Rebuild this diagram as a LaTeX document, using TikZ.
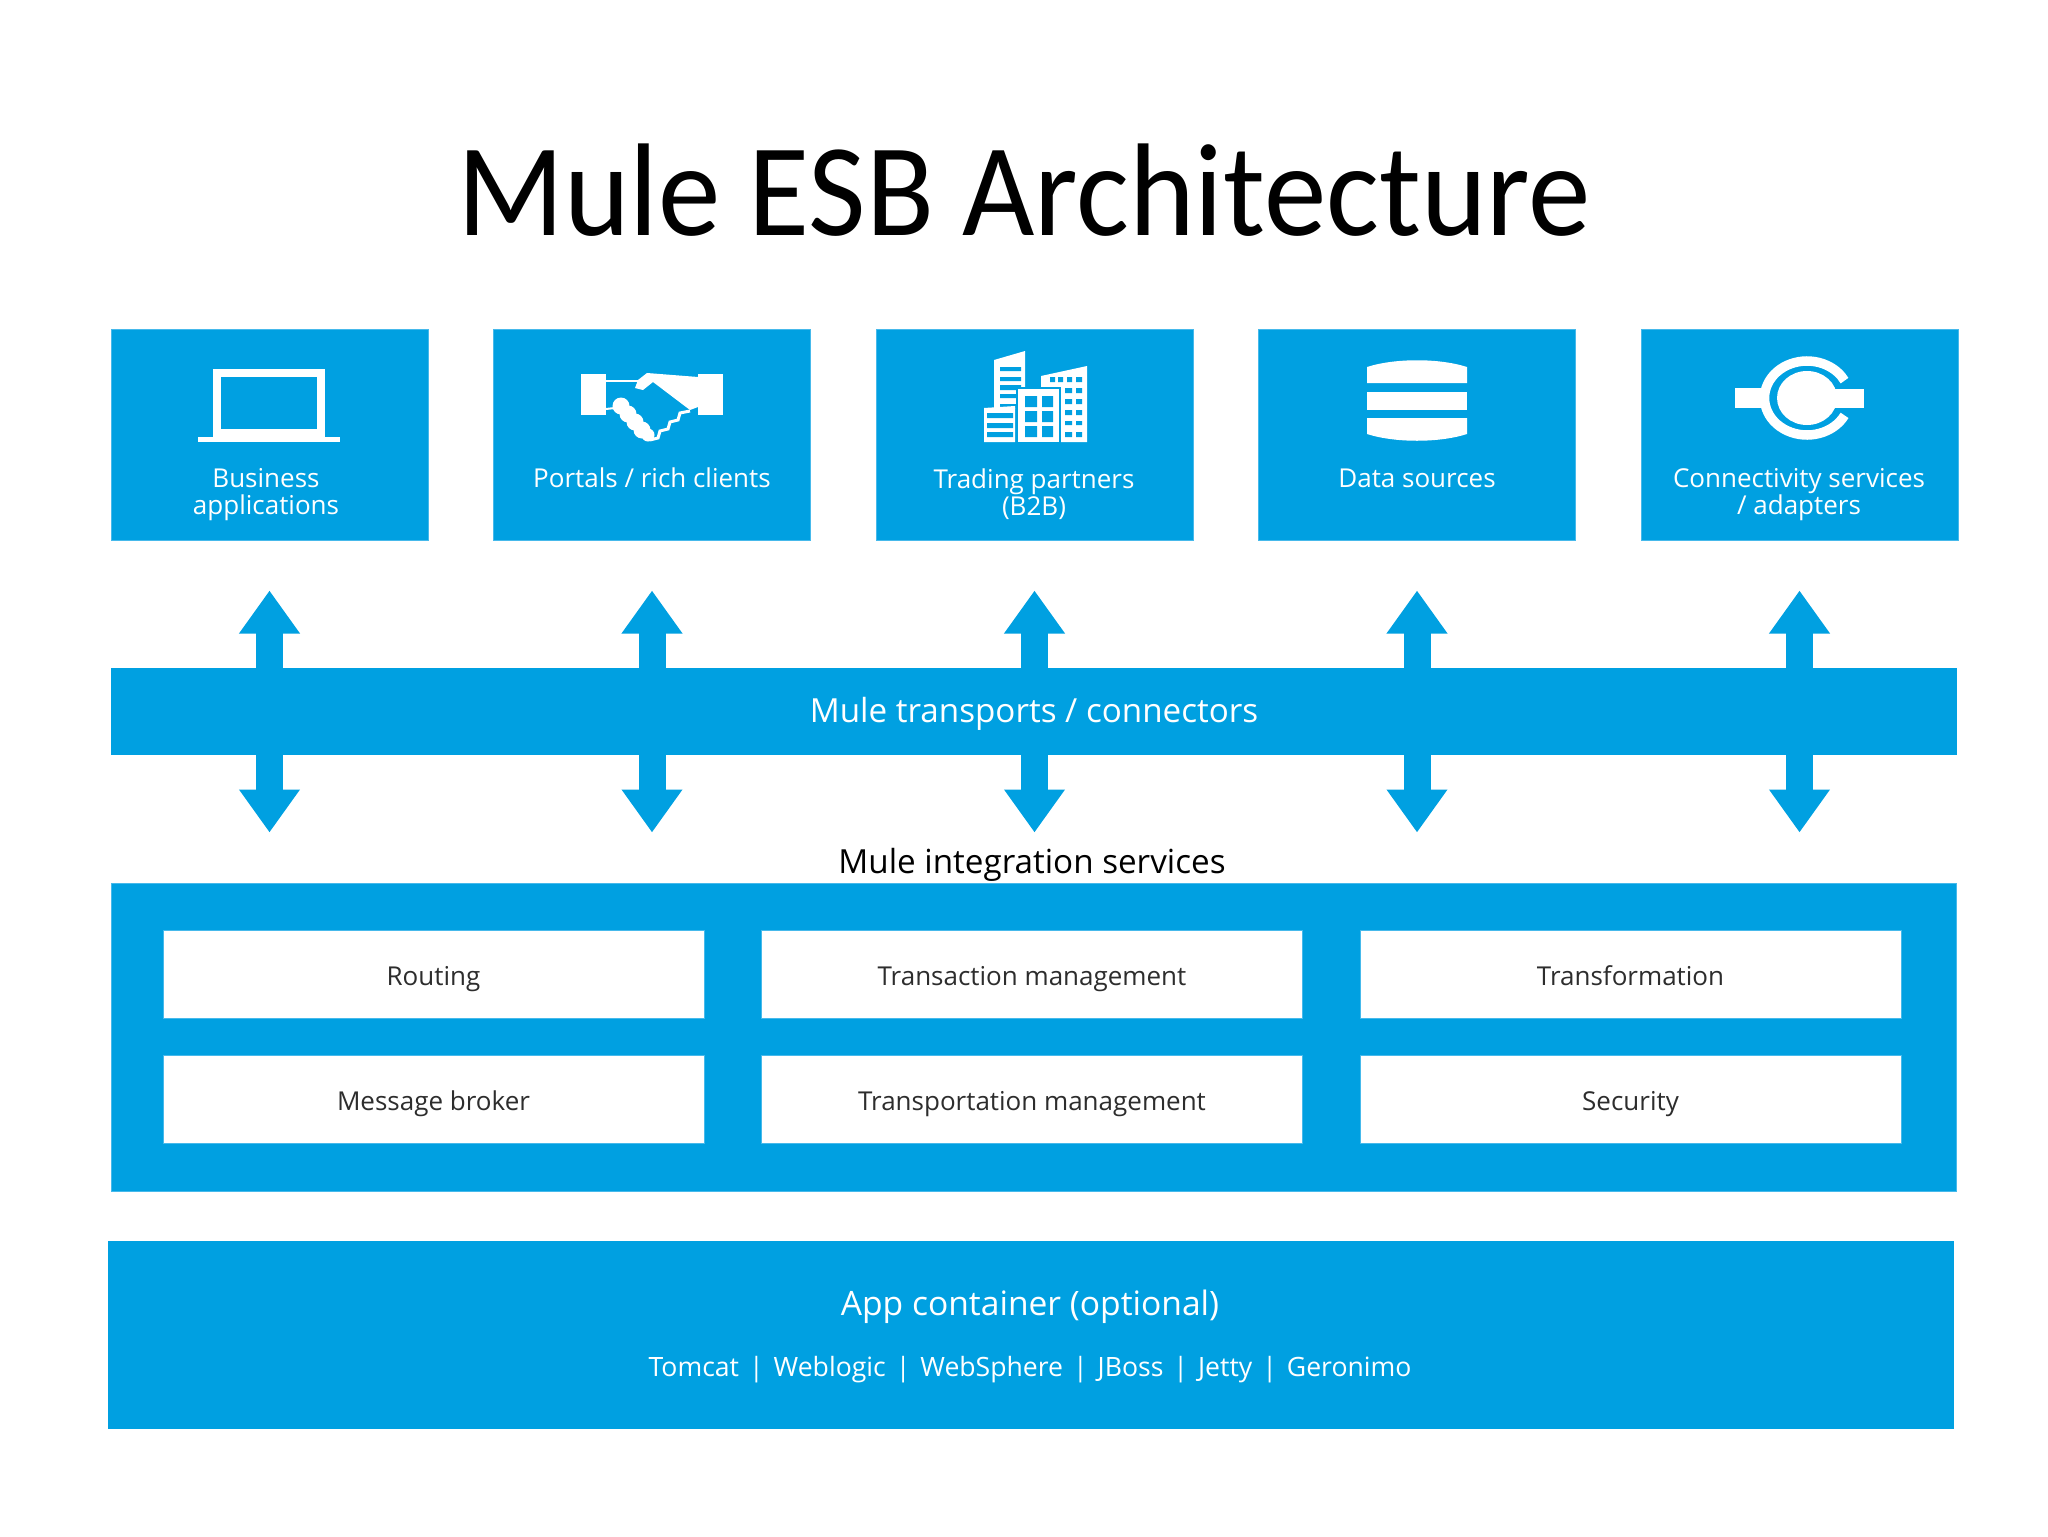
\documentclass[tikz,border=0pt]{standalone}
\usepackage{fontspec}
\setmainfont{Open Sans}
\newfontfamily\titlefont[FakeStretch=0.947]{Carlito}
\usetikzlibrary{arrows.meta}
\definecolor{esbblue}{RGB}{0,160,225}
\definecolor{esbedge}{RGB}{70,185,235}
\definecolor{esbtext}{RGB}{45,45,45}
\newcommand{\fsize}[1]{\fontsize{#1}{13.5pt}\selectfont}
\newcommand{\vsep}{\hspace{0.375em}|\hspace{0.375em}}
\tikzstyle{arrow} = [line width=13.5pt, draw=esbblue, {Triangle[width=29pt,length=21.5pt]}-{Triangle[width=29pt,length=21.5pt]}]
\tikzstyle{block} = [rectangle, minimum width=158.5pt, minimum height=105.5pt, fill=esbblue, draw=esbedge, line width=0.5pt]
\tikzstyle{bar} = [rectangle, fill=esbblue, text=white, inner sep=0pt, text height=12pt, text depth=1.5pt, font=\fsize{16.6}]
\tikzstyle{panel} = [rectangle, fill=esbblue, draw=esbedge, line width=0.5pt, inner sep=0pt]
\tikzstyle{cell} = [rectangle, minimum width=270.5pt, minimum height=44pt, fill=white, draw=esbedge, line width=0.5pt, text=esbtext, inner sep=0pt, text height=12pt, text depth=1pt, font=\fsize{13}]
\tikzstyle{blocktext} = [text=white, align=center, inner sep=0pt, font=\fsize{13}]
\tikzstyle{icon} = [fill=white, draw=none]
\tikzstyle{cutout} = [fill=esbblue, draw=none]
\begin{document}
\begin{tikzpicture}[x=0.5pt, y=-0.5pt, node distance=191.25pt]
	\useasboundingbox (0,0) rectangle (2048,1536);
	\node(title) at (1024,235.5) [anchor=base, inner sep=0pt, font=\titlefont\fontsize{66}{70}\selectfont] {Mule ESB Architecture};

	\node(b1) at (269.5,434.5) [block] {};
	\node(b2) [block, right of=b1] {};
	\node(b3) [block, right of=b2] {};
	\node(b4) [block, right of=b3] {};
	\node(b5) [block, right of=b4] {};

	\node(l1) at (266,495) [blocktext] {Business\\applications};
	\node(l2) at (652,478) [blocktext] {Portals / rich clients};
	\node(l3) at (1034,494) [blocktext] {Trading partners\\(B2B)};
	\node(l4) at (1417,478) [blocktext] {Data sources};
	\node(l5) at (1799,495) [blocktext] {Connectivity services\\/ adapters};

	\coordinate(u1) at ([yshift=-25pt]b1.south);
	\coordinate(u2) at ([yshift=-25pt]b2.south);
	\coordinate(u3) at ([yshift=-25pt]b3.south);
	\coordinate(u4) at ([yshift=-25pt]b4.south);
	\coordinate(u5) at ([yshift=-25pt]b5.south);
	\coordinate(d1) at ([yshift=-146pt]b1.south);
	\coordinate(d2) at ([yshift=-146pt]b2.south);
	\coordinate(d3) at ([yshift=-146pt]b3.south);
	\coordinate(d4) at ([yshift=-146pt]b4.south);
	\coordinate(d5) at ([yshift=-146pt]b5.south);
	\draw [arrow] (u1) -- (d1);
	\draw [arrow] (u2) -- (d2);
	\draw [arrow] (u3) -- (d3);
	\draw [arrow] (u4) -- (d4);
	\draw [arrow] (u5) -- (d5);

	\node(bus) at (1034,711.5) [bar, minimum width=923pt, minimum height=43.5pt] {Mule transports / connectors};

	\node(svc) at (1032,865) [inner sep=0pt, font=\fsize{16.6}] {Mule integration services};
	\node(pan) at (1034,1037.5) [panel, minimum width=922.5pt, minimum height=154pt] {};
	\node(c1) at (433.5,974) [cell] {Routing};
	\node(c2) [cell, right of=c1, node distance=299.25pt] {Transaction management};
	\node(c3) [cell, right of=c2, node distance=299.25pt] {Transformation};
	\node(c4) [cell, below of=c1, node distance=62.5pt] {Message broker};
	\node(c5) [cell, below of=c2, node distance=62.5pt] {Transportation management};
	\node(c6) [cell, below of=c3, node distance=62.5pt] {Security};

	\node(app) at (1031,1335) [panel, draw=none, minimum width=923pt, minimum height=94pt] {};
	\node(a1) at (1030,1305) [bar, font=\fsize{16.8}] {App container (optional)};
	\node(a2) at (1030,1366) [bar, font=\fsize{13.3}] {Tomcat\vsep Weblogic\vsep WebSphere\vsep JBoss\vsep Jetty\vsep Geronimo};

	\draw [white, line width=3.75pt] (217,373) rectangle (321,433);
	\fill [icon] (198,437) rectangle (340,442);

	\fill [icon] (581,374) rectangle (606,415);
	\fill [icon] (698,374) rectangle (723,415);
	\fill [icon] (635,388) -- (638,380) -- (647,373) -- (698,377) -- (698,407) -- (690,410) -- (653,382) -- (643,390) -- cycle;
	\fill [icon] (621,406) circle (8.5) (628,414) circle (8.5) (635,422) circle (8.5) (642,430) circle (8.5) (648,435) circle (6.5);
	\draw [white, line width=1pt] (606,381) -- (640,381);
	\draw [white, line width=1pt] (606,409) -- (615,408);
	\draw [white, line width=1.5pt] (690,411) -- (680,413) -- (678,420) -- (670,422) -- (668,429) -- (660,431) -- (658,438) -- (650,440);

	\fill [icon] (994,360) -- (1025,351) -- (1025,408) -- (994,408) -- cycle;
	\fill [cutout] (1000,367) rectangle (1021,371) (1000,377) rectangle (1021,381) (1000,385) rectangle (1021,390) (1000,394) rectangle (1021,398) (1000,404) rectangle (1021,408);
	\fill [icon] (984,408) -- (1015,406) -- (1015,442) -- (984,442) -- cycle;
	\fill [cutout] (987,413) rectangle (1013,418) (987,423) rectangle (1013,428) (987,432) rectangle (1013,437);
	\fill [icon] (1041,376) -- (1087,366) -- (1087,442) -- (1041,442) -- cycle;
	\fill [cutout] (1050,377) rectangle (1055,382) (1058,377) rectangle (1063,382) (1067,377) rectangle (1072,382) (1076,377) rectangle (1082,382);
	\fill [cutout] (1065,388) rectangle (1072,393) (1076,388) rectangle (1082,393) (1065,399) rectangle (1072,404) (1076,399) rectangle (1082,404) (1065,410) rectangle (1072,415) (1076,410) rectangle (1082,415) (1065,421) rectangle (1072,425) (1076,421) rectangle (1082,425) (1065,432) rectangle (1072,437) (1076,432) rectangle (1082,437);
	\draw [icon, draw=esbblue, line width=1pt] (1017,388) rectangle (1060,443);
	\fill [cutout] (1025,396) rectangle (1037,407) (1042,396) rectangle (1053,407) (1025,411) rectangle (1037,422) (1042,411) rectangle (1053,422) (1025,426) rectangle (1037,437) (1042,426) rectangle (1053,437);

	\fill [icon] (1367,383) -- (1367,367) .. controls (1395,358) and (1439,358) .. (1467,367) -- (1467,383) -- cycle;
	\fill [icon] (1367,392) rectangle (1467,410);
	\fill [icon] (1367,418) -- (1467,418) -- (1467,434) .. controls (1439,443) and (1395,443) .. (1367,434) -- cycle;

	\fill [icon] (1807,398) ellipse [x radius=30, y radius=27];
	\draw [white, line width=4.75pt] (1807,398) ++(28:42.5 and 37) arc [start angle=28, end angle=332, x radius=42.5, y radius=37];
	\fill [icon] (1735,388) rectangle (1762,408);
	\fill [icon] (1835,389) rectangle (1864,408);
\end{tikzpicture}
\end{document}
